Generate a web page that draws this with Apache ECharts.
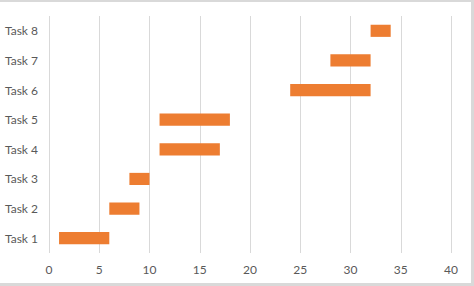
<!DOCTYPE html>
<html>
<head>
<meta charset="utf-8">
<script src="https://cdn.jsdelivr.net/npm/echarts@6/dist/echarts.min.js"></script>
<style>
  html, body { margin: 0; padding: 0; background: #fff; }
  #chart { width: 474px; height: 286px; }
</style>
</head>
<body>
<div id="chart"></div>
<script>
(function() {
  var tasks = ['Task 1', 'Task 2', 'Task 3', 'Task 4', 'Task 5', 'Task 6', 'Task 7', 'Task 8'];
  var starts = [1, 6, 8, 11, 11, 24, 28, 32];
  var durations = [5, 3, 2, 6, 7, 8, 4, 2];

  var orange = '#ED7D31';
  var text = '#595959';
  var grid = '#D9D9D9';

  var chart = echarts.init(document.getElementById('chart'), null, { renderer: 'svg' });
  chart.setOption({
    animation: false,
    backgroundColor: '#fff',
    grid: { left: 49, right: 23, top: 16, bottom: 33, containLabel: false },
    xAxis: {
      type: 'value',
      min: 0,
      max: 40,
      interval: 5,
      axisLine: { show: false },
      axisTick: { show: false },
      axisLabel: { color: text, fontSize: 12, fontFamily: 'Lato', margin: 10 },
      splitLine: { lineStyle: { color: grid, width: 1 } }
    },
    yAxis: {
      type: 'category',
      data: tasks,
      axisLine: { show: false },
      axisTick: { show: false },
      axisLabel: { color: text, fontSize: 12, fontFamily: 'Lato', margin: 11 },
      splitLine: { show: false }
    },
    series: [
      {
        type: 'bar',
        stack: 'gantt',
        data: starts,
        itemStyle: { color: 'transparent' },
        barWidth: '41%',
        silent: true
      },
      {
        type: 'bar',
        stack: 'gantt',
        data: durations,
        itemStyle: { color: orange },
        barWidth: '41%'
      }
    ],
    graphic: [
      { type: 'rect', left: 0, top: 0, shape: { width: 474, height: 2 }, style: { fill: grid } },
      { type: 'rect', right: 0, top: 0, shape: { width: 3, height: 286 }, style: { fill: grid } },
      { type: 'rect', left: 0, bottom: 0, shape: { width: 474, height: 3 }, style: { fill: grid } }
    ]
  });
})();
</script>
</body>
</html>
